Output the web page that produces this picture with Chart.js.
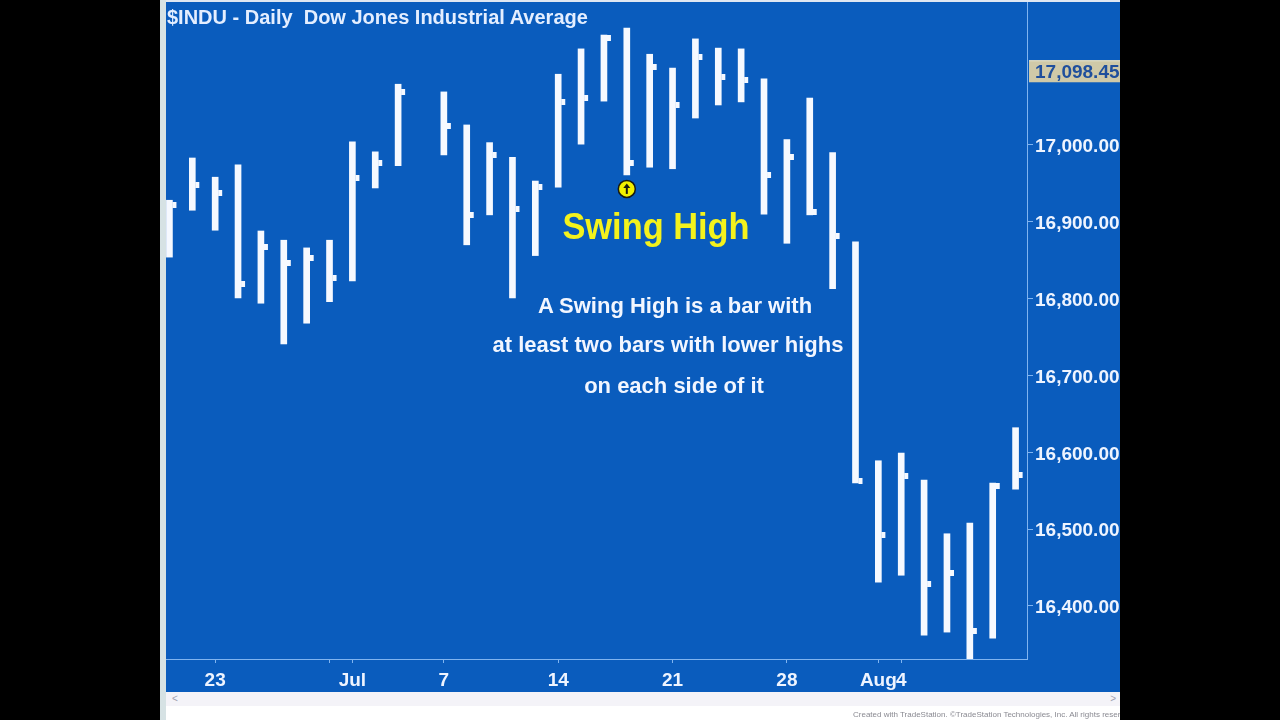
<!DOCTYPE html>
<html>
<head>
<meta charset="utf-8">
<script src="https://cdn.jsdelivr.net/npm/chart.js@4.4.1/dist/chart.umd.min.js"></script>
<style>
  html, body { margin: 0; padding: 0; background: #000; }
  body { width: 1280px; height: 720px; position: relative; overflow: hidden;
         font-family: "Liberation Sans", Arial, sans-serif; }
  .abs { position: absolute; }
  #frame   { left: 160px; top: 0; width: 960px; height: 720px; background: #fff; overflow: hidden; }
  #blue    { left: 160px; top: 2px; width: 960px; height: 690px; background: #0a5cbd; }
  #topline { left: 160px; top: 0; width: 960px; height: 2px; background: #dfe7f2; z-index: 3; }
  #wrap    { left: 153px; top: -3px; width: 967px; height: 695px; }
  #leftbar { left: 160px; top: 0; width: 6px; height: 720px; background: #d6e2e4; z-index: 3; }
  #blackL  { left: 0; top: 0; width: 160px; height: 720px; background: #000; z-index: 4; }
  #scroll  { left: 166px; top: 692px; width: 954px; height: 14px; background: #f4f3f8; z-index: 3;
             font-size: 10px; color: #a0a0b0; line-height: 14px; }
  #credit  { left: 160px; top: 706px; width: 960px; height: 14px; overflow: hidden; z-index: 3; }
  #credit span { position: absolute; left: 693px; top: 4px; white-space: nowrap;
                 font-size: 8px; color: #8a8a92; }
  #title   { left: 167px; top: 6px; font-size: 20px; font-weight: bold; color: #e4eeff;
             white-space: pre; z-index: 2; }
  .note    { width: 600px; text-align: center; font-weight: bold; color: #f2f6ff;
             font-size: 22px; line-height: 40px; white-space: nowrap; z-index: 2; }
  #swing   { width: 400px; text-align: center; font-weight: bold; color: #f4f21c;
             font-size: 36px; line-height: 50px; transform: scaleX(0.955); z-index: 2; }
</style>
</head>
<body>
<div id="frame" class="abs"></div>
<div id="blue" class="abs"></div>
<div id="wrap" class="abs"><canvas id="chart"></canvas></div>
<div id="topline" class="abs"></div>
<div id="leftbar" class="abs"></div>
<div id="blackL" class="abs"></div>
<div id="scroll" class="abs"><span class="abs" style="left:6px">&lt;</span><span class="abs" style="right:4px">&gt;</span></div>
<div id="credit" class="abs"><span>Created with TradeStation. ©TradeStation Technologies, Inc. All rights reserved.</span></div>
<div id="title" class="abs">$INDU - Daily  Dow Jones Industrial Average</div>
<div id="swing" class="abs" style="left:456px; top:202px">Swing High</div>
<div class="note abs" style="left:375px; top:286px">A Swing High is a bar with</div>
<div class="note abs" style="left:368px; top:325px">at least two bars with lower highs</div>
<div class="note abs" style="left:374px; top:366px">on each side of it</div>

<script>
// ── Data (Jun 19 – Aug 11 2014) ─────────────────────────────────────────────

const dates = ['Jun 19','Jun 20','Jun 23','Jun 24','Jun 25','Jun 26','Jun 27','Jun 30',
               'Jul 1','Jul 2','Jul 3','Jul 4','Jul 7','Jul 8','Jul 9','Jul 10','Jul 11',
               'Jul 14','Jul 15','Jul 16','Jul 17','Jul 18','Jul 21','Jul 22','Jul 23',
               'Jul 24','Jul 25','Jul 28','Jul 29','Jul 30','Jul 31','Aug 1','Aug 4',
               'Aug 5','Aug 6','Aug 7','Aug 8','Aug 11'];

const highs  = [16928,16983,16958,16974,16888,16876,16866,16876,17004,16991,17079,null,
                17069,17026,17003,16984,16953,17092,17125,17143,17152,17118,17100,17138,
                17126,17125,17086,17007,17061,16990,16874,16589,16599,16564,16494,16508,
                16560,16632];
const lows   = [16854,16915,16889,16801,16794,16741,16768,16796,16823,16944,16973,null,
                16987,16870,16909,16801,16856,16945,17001,17057,16961,16971,16969,17035,
                17052,17056,16910,16872,16909,16813,16560,16431,16440,16362,16366,16330,
                16358,16552];
const closes = [16922,16948,16938,16819,16867,16846,16853,16827,16957,16977,17069,null,
                17025,16909,16987,16917,16945,17056,17061,17139,16977,17102,17052,17115,
                17089,17085,16961,16984,16913,16882,16563,16492,16569,16429,16443,16367,
                16556,16570];

const yTicks     = [16400, 16500, 16600, 16700, 16800, 16900, 17000];
const tickDates  = ['Jun 23','Jun 30','Jul 1','Jul 7','Jul 14','Jul 21','Jul 28','Aug 1','Aug 4'];
const tickTexts  = ['23',    '',      'Jul',  '7',    '14',    '21',    '28',    'Aug',  '4'];
const swingDate  = 'Jul 17';
const lastPrice  = 17098.45;

// ── Style ──────────────────────────────────────────────────────────────────

const BAR_COLOR  = '#f6f9ff';
const AXIS_COLOR = '#80b4f0';
const TEXT_COLOR = '#eef4ff';
const FONT       = '"Liberation Sans", Arial, sans-serif';

function makeCloseTick() {
  const c = document.createElement('canvas');
  c.width = 16; c.height = 6;
  const g = c.getContext('2d');
  g.fillStyle = BAR_COLOR;
  g.fillRect(11, 0, 4, 6);
  return c;
}

// ── Overlays: swing-high marker and last-price box ─────────────────────────

const overlays = {
  id: 'overlays',
  afterDatasetsDraw(chart) {
    const { ctx, scales: { x, y } } = chart;
    const i  = dates.indexOf(swingDate);
    const cx = x.getPixelForValue(i);
    const cy = y.getPixelForValue(lows[i]) + 14;
    ctx.save();
    ctx.beginPath();
    ctx.arc(cx, cy, 8.5, 0, Math.PI * 2);
    ctx.fillStyle = '#f2f000';
    ctx.fill();
    ctx.lineWidth = 1.5;
    ctx.strokeStyle = '#1a1a10';
    ctx.stroke();
    ctx.beginPath();
    ctx.moveTo(cx, cy + 5); ctx.lineTo(cx, cy - 2);
    ctx.lineWidth = 2; ctx.stroke();
    ctx.beginPath();
    ctx.moveTo(cx - 3.5, cy - 1); ctx.lineTo(cx, cy - 5.5); ctx.lineTo(cx + 3.5, cy - 1);
    ctx.closePath();
    ctx.fillStyle = '#1a1a10'; ctx.fill();
    ctx.restore();
  },
  afterDraw(chart) {
    const { ctx, chartArea, scales: { y } } = chart;
    const py = y.getPixelForValue(lastPrice) + 2;
    ctx.save();
    ctx.fillStyle = '#cfc9a8';
    ctx.fillRect(chartArea.right + 2, py - 11, chart.width - chartArea.right, 22);
    ctx.fillStyle = '#e8e4cc';
    ctx.fillRect(chartArea.right + 2, py - 11, chart.width - chartArea.right, 1);
    ctx.font = `bold 19px ${FONT}`;
    ctx.fillStyle = '#1f4f9c';
    ctx.textBaseline = 'middle';
    ctx.fillText(lastPrice.toLocaleString('en-US', { minimumFractionDigits: 2 }),
                 chartArea.right + 8, py + 1);
    ctx.restore();
  }
};

// ── Chart ──────────────────────────────────────────────────────────────────

function initChart() {
  const tickIdx = tickDates.map(d => dates.indexOf(d));
  const ctx = document.getElementById('chart').getContext('2d');

  new Chart(ctx, {
    type: 'bar',
    data: {
      labels: dates,
      datasets: [
        {
          label: 'High-Low',
          data: lows.map((l, i) => l == null ? null : [l, highs[i]]),
          backgroundColor: BAR_COLOR,
          borderWidth: 0,
          barThickness: 6,
          order: 2,
        },
        {
          type: 'line',
          label: 'Close',
          data: closes,
          showLine: false,
          pointStyle: makeCloseTick(),
          pointRadius: 3,
          order: 1,
        }
      ]
    },
    options: {
      responsive: true,
      maintainAspectRatio: false,
      animation: false,
      events: [],
      layout: { padding: 0 },
      plugins: { legend: { display: false }, tooltip: { enabled: false } },
      scales: {
        x: {
          type: 'category',
          offset: true,
          border: { display: true, color: AXIS_COLOR, width: 1 },
          grid: {
            offset: false,
            drawOnChartArea: false,
            drawTicks: true,
            tickLength: 4,
            color: c => tickIdx.includes(c.index) ? AXIS_COLOR : 'transparent',
          },
          ticks: {
            autoSkip: false,
            maxRotation: 0,
            padding: 6,
            color: TEXT_COLOR,
            font: { family: FONT, size: 19, weight: 'bold' },
            callback: (v, i) => {
              const k = tickIdx.indexOf(i);
              return k < 0 ? '' : tickTexts[k];
            },
          },
          afterFit: s => { s.height = 33; s.paddingLeft = 0; s.paddingRight = 0; },
        },
        y: {
          position: 'right',
          min: 16331,
          max: 17186,
          border: { display: true, color: AXIS_COLOR, width: 1 },
          grid: { drawOnChartArea: false, drawTicks: true, tickLength: 6, color: AXIS_COLOR },
          ticks: {
            padding: 2,
            labelOffset: 2,
            color: TEXT_COLOR,
            font: { family: FONT, size: 19, weight: 'bold' },
            callback: v => v.toLocaleString('en-US', { minimumFractionDigits: 2 }),
          },
          afterBuildTicks: s => { s.ticks = yTicks.map(v => ({ value: v })); },
          afterFit: s => { s.width = 93; s.paddingTop = 0; s.paddingBottom = 0; },
        }
      }
    },
    plugins: [overlays]
  });
}

document.addEventListener('DOMContentLoaded', initChart);
</script>
</body>
</html>
